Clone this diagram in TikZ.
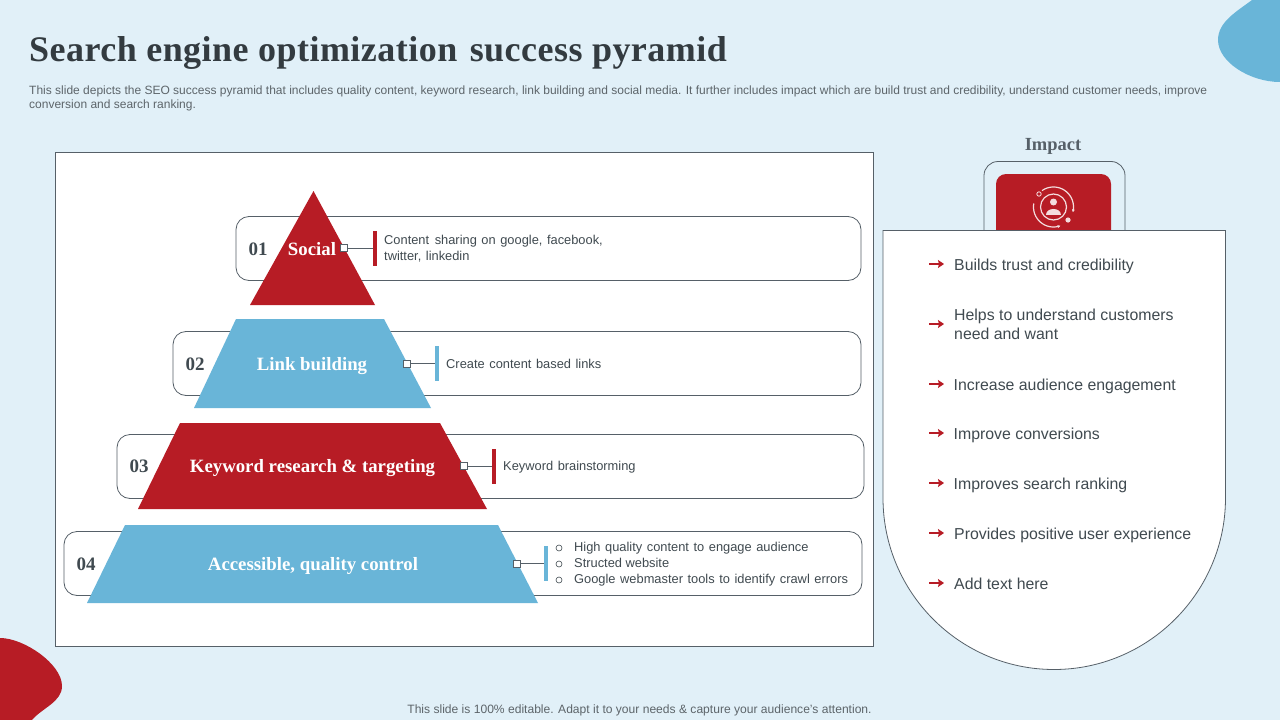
\documentclass[tikz,border=0pt]{standalone}
\usepackage{fontspec}
\setmainfont{Liberation Sans}
\newfontfamily\serifbf{Liberation Serif}
\newfontfamily\titlefont[LetterSpace=1.3]{Liberation Serif}
\usetikzlibrary{calc,arrows.meta}
\definecolor{pagebg}{HTML}{E1F0F8}
\definecolor{seored}{HTML}{B71C25}
\definecolor{seoblue}{HTML}{69B5D8}
\definecolor{seotext}{HTML}{404A50}
\definecolor{seoline}{HTML}{566068}
\colorlet{iconline}{white!85!seored}
\tikzset{
	rowbox/.style={draw=seoline, fill=white, line width=0.8pt, rounded corners=13pt, inner sep=0pt},
	knob/.style={draw=seoline, fill=white, line width=0.6pt, minimum size=7pt, inner sep=0pt},
	bar/.style={minimum width=4pt, inner sep=0pt},
	numlabel/.style={font=\serifbf\bfseries\fontsize{19}{19}\selectfont, text=seotext},
	steplabel/.style={font=\serifbf\bfseries\fontsize{18.8}{19}\selectfont, text=white},
	rowtext/.style={font=\fontsize{12.85}{16}\selectfont, text=seotext, anchor=west, align=left, inner sep=0pt},
	impacttext/.style={font=\fontsize{15.85}{19}\selectfont, text=seotext, anchor=west, align=left, inner sep=0pt},
	impactarrow/.style={draw=seored, line width=2pt, -{Stealth[length=6pt,width=8pt,inset=1pt]}}
}
\begin{document}
\begin{tikzpicture}[x=1pt,y=-1pt]
	%%%%% BACKGROUND %%%%%
	\useasboundingbox (0,0) rectangle (1280,720);
	\fill[pagebg] (0,0) rectangle (1280,720);
	\fill[seoblue] (1252,0) .. controls (1236,12) and (1218,22) .. (1218,40) .. controls (1218,62) and (1250,82) .. (1280,82) -- (1280,0) -- cycle;
	\fill[seored] (0,638) .. controls (24,638) and (62,664) .. (62,686) .. controls (62,702) and (42,708) .. (32,720) -- (0,720) -- cycle;
	
	%%%%% TITLE %%%%%
	\node[anchor=west, font=\titlefont\bfseries\fontsize{36}{36}\selectfont, text=seotext!80!black, inner sep=0pt] (title) at (29,53) {Search engine optimization\hspace{3pt} success pyramid};
	\node[anchor=north west, font=\fontsize{12}{14}\selectfont, text=seotext!85, inner sep=0pt, align=left] (intro) at (29,86) {This slide depicts the SEO success pyramid that includes quality content, keyword research, link building and social media. It further includes impact which are build trust and credibility, understand customer needs, improve\\conversion and search ranking.};
	\node[font=\fontsize{12.08}{14}\selectfont, text=seotext!85, inner sep=0pt] (footer) at (639.5,710) {This slide is 100\% editable. Adapt it to your needs \& capture your audience’s attention.};
	
	%%%%% LEFT PANEL %%%%%
	\node[draw=seoline, fill=white, line width=0.7pt, minimum width=818pt, minimum height=494pt, inner sep=0pt] (panel) at (464.5,399.5) {};
	
	\node[rowbox, minimum width=625pt, minimum height=64pt] (rowa) at (548.5,248.5) {};
	\node[rowbox, minimum width=688pt, minimum height=64pt] (rowb) at (517,363.5) {};
	\node[rowbox, minimum width=747pt, minimum height=64pt] (rowc) at (490.5,466.5) {};
	\node[rowbox, minimum width=798pt, minimum height=64pt] (rowd) at (463,563.5) {};
	
	\node[numlabel] (numa) at (258,249) {01};
	\node[numlabel] (numb) at (195,364) {02};
	\node[numlabel] (numc) at (139,466) {03};
	\node[numlabel] (numd) at (86,564) {04};
	
	%%%%% PYRAMID %%%%%
	\fill[seored] (313.5,191) -- (375,305) -- (250,305) -- cycle;
	\fill[seoblue] (236,319) -- (384,319) -- (431,408) -- (194,408) -- cycle;
	\fill[seored] (180,423) -- (440,423) -- (487,509) -- (138,509) -- cycle;
	\fill[seoblue] (125,525) -- (498,525) -- (538,603) -- (87,603) -- cycle;
	
	\node[steplabel] (stepa) at (312,249) {Social};
	\node[steplabel] (stepb) at (312,366) {Link building};
	\node[steplabel] (stepc) at (312.5,468) {Keyword research \& targeting};
	\node[steplabel] (stepd) at (313,566) {Accessible, quality control};
	
	%%%%% ROW DETAILS %%%%%
	\node[knob] (knoba) at (344,248) {};
	\node[knob] (knobb) at (407,363.5) {};
	\node[knob] (knobc) at (463.5,466) {};
	\node[knob] (knobd) at (516.5,563.5) {};
	
	\node[bar, fill=seored, minimum height=35pt] (bara) at (375,248) {};
	\node[bar, fill=seoblue, minimum height=35pt] (barb) at (437,363.5) {};
	\node[bar, fill=seored, minimum height=35pt] (barc) at (494,466) {};
	\node[bar, fill=seoblue, minimum height=35pt] (bard) at (546,563.5) {};
	
	\draw[seoline, line width=1pt] (knoba) -- (bara);
	\draw[seoline, line width=1pt] (knobb) -- (barb);
	\draw[seoline, line width=1pt] (knobc) -- (barc);
	\draw[seoline, line width=1pt] (knobd) -- (bard);
	
	\node[rowtext] (texta) at (384,249) {Content\hspace{2pt} sharing\hspace{1pt} on\hspace{1pt} google,\hspace{1pt} facebook,\\twitter,\hspace{1pt} linkedin};
	\node[rowtext] (textb) at (446,363.5) {Create\hspace{1pt} content\hspace{1pt} based\hspace{1pt} links};
	\node[rowtext] (textc) at (503,467) {Keyword\hspace{1pt} brainstorming};
	\node[rowtext] (textd) at (574,564.5) {High\hspace{1pt} quality\hspace{1pt} content\hspace{1pt} to\hspace{1pt} engage\hspace{1pt} audience\\Structed website\\Google\hspace{1pt} webmaster\hspace{1pt} tools\hspace{1pt} to\hspace{1pt} identify\hspace{1pt} crawl\hspace{1pt} errors};
	\draw[seotext, line width=0.6pt] (559,548) circle (3);
	\draw[seotext, line width=0.6pt] (559,564) circle (3);
	\draw[seotext, line width=0.6pt] (559,580) circle (3);
	
	%%%%% IMPACT %%%%%
	\node[font=\serifbf\bfseries\fontsize{18.5}{18}\selectfont, text=seoline] (impact) at (1053,146) {Impact};
	\draw[seoline, line width=0.8pt, rounded corners=14pt] (984,232) -- (984,161.5) -- (1125,161.5) -- (1125,232);
	\fill[seored, rounded corners=10pt] (996,240) -- (996,174) -- (1111,174) -- (1111,240) -- cycle;
	
	% icon
	\draw[iconline, line width=1.2pt] (1053.5,207) circle (13);
	\draw[iconline, line width=1.2pt, domain=235:375, samples=40, -{Stealth[length=3pt,width=3pt]}] plot ({1053.5+20*cos(\x)},{207+20*sin(\x)});
	\draw[iconline, line width=1.2pt, domain=190:70, samples=40, -{Stealth[length=3pt,width=3pt]}] plot ({1053.5+20*cos(\x)},{207+20*sin(\x)});
	\fill[iconline] (1053.5,202) circle (3.5);
	\fill[iconline] (1046,215) .. controls (1046,206.5) and (1061,206.5) .. (1061,215) -- cycle;
	\draw[iconline, line width=0.8pt] (1039,194) circle (2.2);
	\fill[iconline] (1068,220) circle (2.6);
	
	\draw[seoline, line width=0.8pt, fill=white] (883,230.5) -- (1225.5,230.5) -- (1225.5,498) .. controls (1225.5,592.4) and (1148.4,669.5) .. (1054,669.5) .. controls (959.6,669.5) and (883,592.4) .. (883,498) -- cycle;
	
	\coordinate (tipa) at (944,264);
	\coordinate (tipb) at (944,324);
	\coordinate (tipc) at (944,384);
	\coordinate (tipd) at (944,433);
	\coordinate (tipe) at (944,483);
	\coordinate (tipf) at (944,533);
	\coordinate (tipg) at (944,583);
	\coordinate (taila) at (929,264);
	\coordinate (tailb) at (929,324);
	\coordinate (tailc) at (929,384);
	\coordinate (taild) at (929,433);
	\coordinate (taile) at (929,483);
	\coordinate (tailf) at (929,533);
	\coordinate (tailg) at (929,583);
	\foreach \n in {a,b,c,d,e,f,g}
		\draw[impactarrow] (tail\n) -- (tip\n);
	
	\node[impacttext] (impa) at (954,266) {Builds trust and credibility};
	\node[impacttext] (impb) at (954,324.5) {Helps to understand customers\\need and want};
	\node[impacttext] (impc) at (953.5,386) {Increase audience engagement};
	\node[impacttext] (impd) at (953.5,435.5) {Improve conversions};
	\node[impacttext] (impe) at (953.5,485.5) {Improves search ranking};
	\node[impacttext] (impf) at (954,535.5) {Provides positive user experience};
	\node[impacttext] (impg) at (954,584) {Add text here};
\end{tikzpicture}
\end{document}
